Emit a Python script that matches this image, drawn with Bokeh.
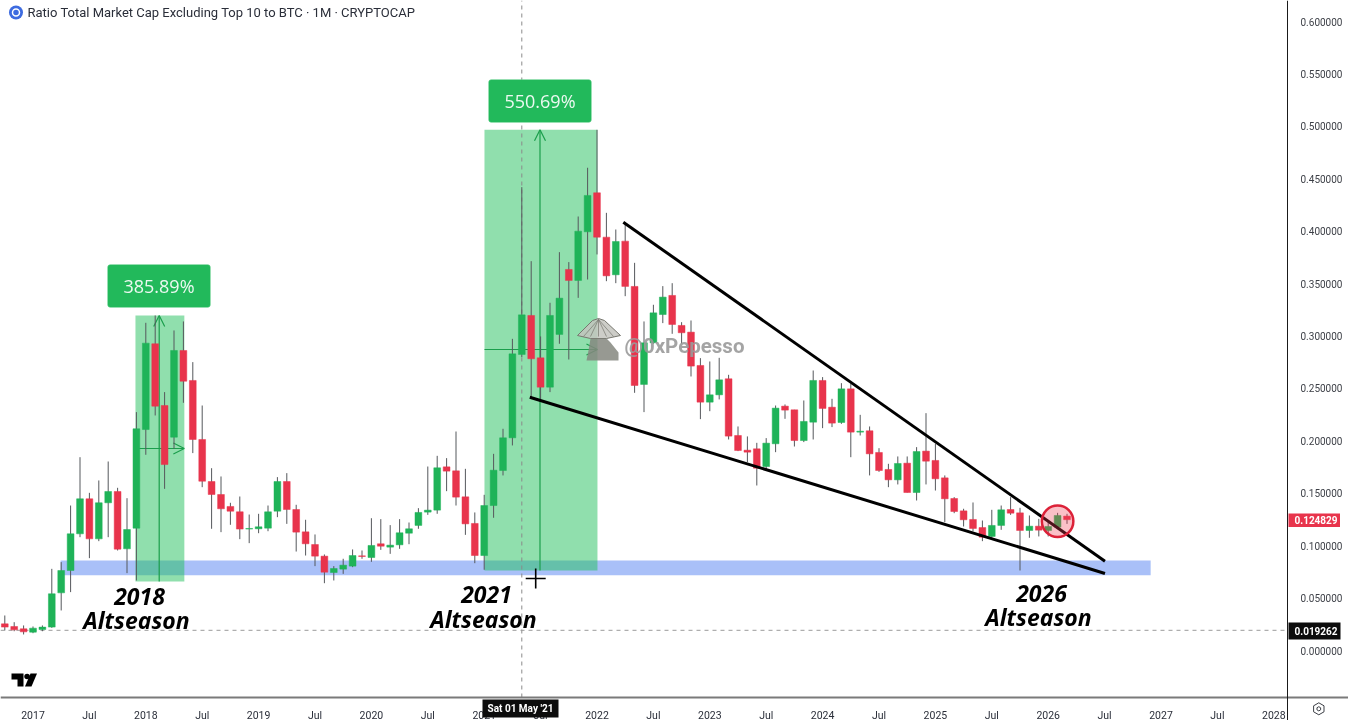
from bokeh.plotting import figure
from bokeh.models import (Range1d, FixedTicker, NumeralTickFormatter, Label, BoxAnnotation,
                          PolyAnnotation, Arrow, OpenHead, ColumnDataSource)
from bokeh.core.properties import value
from bokeh.embed import file_html
from bokeh.resources import INLINE

FIRST_MONTH = -3  # Oct 2016; month 0 = Jan 2017
opens = [.0254,.0229,.0207,
 .0175,.0200,.0223,.0550,.0763,.1113,.1447,.1065,.1409,.1517,.0970,.1167,
 .2108,.2926,.2337,.2035,.2862,.2576,.2013,.1612,.1488,.1374,.1323,.1158,
 .1161,.1167,.1329,.1612,.1345,.1132,.1011,.0900,.0744,.0776,.0805,.0903,
 .0887,.1018,.0986,.1008,.1119,.1193,.1320,.1339,.1752,.1714,.1466,.1212,
 .0906,.1383,.1717,.2029,.2824,.3196,.2792,.2512,.3015,.3635,.3530,.3994,
 .4366,.3943,.3584,.3905,.3473,.2538,.2935,.3205,.3387,.3101,.3037,.2719,
 .2369,.2439,.2592,.2051,.1911,.1924,.1755,.1972,.2331,.2296,.2003,.2178,
 .2576,.2321,.2175,.2496,.2083,.2096,.1889,.1727,.1628,.1787,.1507,.1902,
 .1813,.1647,.1450,.1332,.1250,.1173,.1088,.1193,.1345,.1313,.1145,.1186,
 .1145,.1177,.1282]
highs = [.0334,.0270,.0239,
 .0229,.0239,.0779,.0843,.1383,.1844,.1504,.1622,.1803,.1552,.1453,.2274,
 .3126,.3196,.2465,.3053,.3139,.2751,.2337,.1739,.1660,.1409,.1469,.1297,
 .1304,.1383,.1654,.1692,.1390,.1247,.1107,.0916,.0805,.0875,.0964,.0954,
 .1262,.1253,.1196,.1253,.1221,.1358,.1755,.1857,.1835,.2089,.1733,.1317,
 .1485,.1876,.2115,.2973,.4420,.3714,.2996,.3317,.3800,.3705,.4140,.4605,
 .4967,.4175,.4016,.4086,.3698,.3139,.3298,.3476,.3504,.3132,.3148,.2789,
 .2757,.2792,.2630,.2137,.2042,.1981,.2026,.2337,.2347,.2296,.2385,.2671,
 .2608,.2401,.2550,.2544,.2248,.2137,.1930,.1781,.1851,.1851,.1940,.2264,
 .1972,.1670,.1463,.1352,.1412,.1240,.1342,.1383,.1463,.1361,.1288,.1256,
 .1224,.1313,.1304]
lows = [.0191,.0184,.0153,
 .0165,.0184,.0216,.0382,.0557,.1081,.0881,.1043,.1081,.0954,.0738,.0668,
 .1867,.2242,.1542,.1924,.2363,.1883,.1558,.1161,.1129,.1199,.1062,.1024,
 .1119,.1138,.1272,.1208,.0944,.0906,.0805,.0642,.0668,.0731,.0795,.0875,
 .0846,.0960,.0922,.0970,.1014,.1161,.1294,.1304,.1520,.1383,.1103,.0833,
 .0770,.1266,.1670,.1956,.2798,.2417,.2385,.2465,.2926,.2776,.3364,.3539,
 .3778,.3523,.3504,.3380,.2458,.2274,.2926,.3123,.3021,.2926,.2614,.2207,
 .2283,.2395,.2013,.1902,.1797,.1574,.1727,.1892,.2210,.1946,.1988,.2013,
 .2121,.2131,.2162,.1844,.2051,.1670,.1704,.1558,.1584,.1507,.1431,.1584,
 .1526,.1224,.1310,.1183,.1138,.1043,.1075,.1151,.1294,.0763,.1075,.1088,
 .1088,.1161,.1208]
closes = [.0223,.0197,.0178,
 .0213,.0223,.0541,.0763,.1113,.1447,.1065,.1409,.1517,.0967,.1154,.2115,
 .2932,.2331,.1774,.2862,.2569,.2013,.1615,.1488,.1352,.1329,.1158,.1164,
 .1180,.1323,.1612,.1345,.1129,.1018,.0900,.0747,.0782,.0814,.0906,.0897,
 .1002,.0995,.1005,.1123,.1161,.1317,.1339,.1743,.1711,.1463,.1208,.0906,
 .1383,.1720,.2029,.2830,.3202,.2783,.2512,.3196,.3361,.3530,.4000,.4341,
 .3943,.3574,.3902,.3473,.2528,.2935,.3221,.3371,.3110,.3031,.2713,.2369,
 .2439,.2582,.2045,.1908,.1892,.1739,.1978,.2312,.2293,.2003,.2185,.2576,
 .2309,.2169,.2496,.2083,.2092,.1876,.1717,.1628,.1784,.1507,.1898,.1806,
 .1638,.1447,.1326,.1247,.1164,.1081,.1193,.1342,.1310,.1145,.1186,.1148,
 .1183,.1288,.1248]

tick_months = list(range(0, 133, 6))
tick_labels = ["2017","Jul","2018","Jul","2019","Jul","2020","Jul","2021","Jul","2022","Jul",
               "2023","Jul","2024","Jul","2025","Jul","2026","Jul","2027","Jul","2028"]
price_ticks = [i * 0.05 for i in range(13)]

LAST_PRICE = 0.124829
CROSS_PRICE = 0.019262
CROSS_MONTH = 52
BAND = (2.93, 118.9, 0.0718, 0.0859)
BOX_2018 = (10.9, 16.1, 0.0658, 0.3196)
BOX_2021 = (48.03, 60.05, 0.0763, 0.4967)
UPPER_LINE = ([62.8, 114.04], [0.4086, 0.0852])
LOWER_LINE = ([52.85, 114.04], [0.2416, 0.0735])
MARKER = (109.0, 0.1233)

GREEN, RED, WICK = "#1fb358", "#e8344c", "#55585c"
BOXG = "#22bf5b"

# pixel position on the page -> chart coordinates (decorations only)
def mx(x): return (x - 32.5) / 9.4
def vy(y): return (650 - y) / 1048.3

W, H = 1348, 720
p = figure(width=W, height=H, output_backend="svg", toolbar_location=None,
           x_range=Range1d(mx(0), mx(W)), y_range=Range1d(vy(H), vy(0)),
           x_axis_location="below", y_axis_location="right",
           min_border_left=0, min_border_top=0, min_border_right=0, min_border_bottom=0,
           background_fill_color="white", border_fill_color="white", outline_line_color=None)
p.styles = {"position": "fixed", "left": "0px", "top": "0px"}
p.grid.visible = False

xa, ya = p.xaxis[0], p.yaxis[0]
xa.fixed_location = vy(697)
ya.fixed_location = mx(1287)
xa.ticker = FixedTicker(ticks=tick_months)
xa.major_label_overrides = dict(zip(tick_months, tick_labels))
xa.major_tick_line_color = None; xa.minor_tick_line_color = None
xa.axis_line_color = "#7a7a7a"; xa.axis_line_width = 2
xa.major_label_text_font = "Roboto"; xa.major_label_text_font_size = "10.5px"
xa.major_label_text_color = "#2a2e39"; xa.major_label_standoff = 5
ya.ticker = FixedTicker(ticks=price_ticks)
ya.formatter = NumeralTickFormatter(format="0.000000")
ya.major_tick_line_color = None; ya.minor_tick_line_color = None
ya.axis_line_color = "#1a1a1a"; ya.axis_line_width = 1
ya.major_label_text_font = "Roboto"; ya.major_label_text_font_size = "10px"
ya.major_label_text_color = "#3c3f46"; ya.major_label_standoff = 7

# band and position boxes
p.quad(left=[BAND[0]], right=[BAND[1]], bottom=[BAND[2]], top=[BAND[3]],
       fill_color="#a9c0f8", line_color=None, level="underlay")
for b in (BOX_2018, BOX_2021):
    p.quad(left=[b[0]], right=[b[1]], bottom=[b[2]], top=[b[3]],
           fill_color=BOXG, fill_alpha=0.5, line_color=None, level="underlay")

def arrow(x0, y0, x1, y1):
    p.add_layout(Arrow(end=OpenHead(size=11, line_color="#1b9e4c", line_width=1.2),
                       x_start=x0, y_start=y0, x_end=x1, y_end=y1,
                       line_color="#1b9e4c", line_width=1.2, level="underlay"))
arrow(mx(158.7), BOX_2018[2], mx(158.7), BOX_2018[3])
arrow(BOX_2018[0], vy(448), BOX_2018[1], vy(448))
arrow(mx(539.5), BOX_2021[2], mx(539.5), BOX_2021[3])
arrow(BOX_2021[0], vy(349), BOX_2021[1], vy(349))

# candles
months = [FIRST_MONTH + i for i in range(len(opens))]
src = ColumnDataSource(dict(
    m=months, high=highs, low=lows,
    top=[max(o, c) for o, c in zip(opens, closes)],
    bot=[min(o, c) for o, c in zip(opens, closes)],
    col=[GREEN if c >= o else RED for o, c in zip(opens, closes)]))

# crosshair
p.line([CROSS_MONTH, CROSS_MONTH], [vy(697), vy(0)], line_color="#8a8a8a", line_dash="4 4", line_width=1)
p.line([mx(0), mx(1287)], [CROSS_PRICE, CROSS_PRICE], line_color="#9a9a9a", line_dash="4 4", line_width=1)

p.segment(x0="m", x1="m", y0="low", y1="high", source=src, line_color=WICK, line_width=1)
p.vbar(x="m", width=0.72, bottom="bot", top="top", source=src, fill_color="col", line_color="col", line_width=0.5)

# wedge
p.line(*UPPER_LINE, line_color="black", line_width=3)
p.line(*LOWER_LINE, line_color="black", line_width=3)
p.scatter([MARKER[0]], [MARKER[1]], marker="circle", size=31.5, fill_color="#ee3b50", fill_alpha=0.32,
          line_color="#dc2138", line_width=2.5)

# cursor
p.scatter([mx(535.2)], [vy(578)], marker="cross", size=20, line_color="black", line_width=1.6)

# season texts
season = dict(text_font=value("Open Sans"), text_font_style="bold italic", text_font_size="23px",
              text_color="black", text_align="center", text_baseline="middle")
for (x, y1, y2, yr) in [(139, 596, 619, "2018"), (486, 594, 618, "2021"), (1041, 593, 616, "2026")]:
    p.text([mx(x)], [vy(y1)], text=[yr], **season)
    p.text([mx(x - 3)], [vy(y2)], text=["Altseason"], **season)

# percent tags
for (l, r, t, b, s) in [(107, 210, 264, 307, "385.89%"), (488, 591, 79, 122, "550.69%")]:
    p.add_layout(BoxAnnotation(left=mx(l), right=mx(r), top=vy(t), bottom=vy(b), fill_color="#22b95b",
                               fill_alpha=1, line_color="#a8e8c0", line_width=1, border_radius=3))
    p.add_layout(Label(x=mx((l + r) / 2), y=vy((t + b) / 2), text=s, text_color="#ecf9f1", text_font="Open Sans",
                       text_font_size="18px", text_align="center", text_baseline="middle"))

# title
p.scatter([mx(15.5)], [vy(12)], marker="circle", size=14, fill_color="#3d6be0", line_color=None)
p.scatter([mx(15.5)], [vy(12)], marker="circle", size=7, fill_color="#3d6be0", line_color="white", line_width=1.5)
p.text([mx(27)], [vy(12)], text=["Ratio Total Market Cap Excluding Top 10 to BTC \u00b7 1M \u00b7 CRYPTOCAP"],
       text_font=value("Roboto"), text_font_size="13px", text_color="#2a2e39", text_baseline="middle")

# TradingView mark
p.patch([mx(a) for a in (11, 23, 23, 17, 17, 11)], [vy(b) for b in (673, 673, 686, 686, 679, 679)],
        fill_color="black", line_color=None)
p.scatter([mx(26.6)], [vy(676)], marker="circle", size=5.6, fill_color="black", line_color=None)
p.patch([mx(a) for a in (30, 36.5, 31, 24.5)], [vy(b) for b in (673, 673, 686, 686)],
        fill_color="black", line_color=None)

# watermark
p.patch([mx(a) for a in (598, 604, 620, 606, 590, 577, 592)], [vy(b) for b in (318, 320, 335, 338, 338, 335, 320)],
        fill_color="#c4c4be", fill_alpha=0.85, line_color="#77776f", line_width=1)
for dx in (-15, -8, 0, 8, 15):
    p.line([mx(598), mx(598 + dx)], [vy(319), vy(336)], line_color="#77776f", line_width=0.7)
p.patch([mx(a) for a in (590, 606, 610, 618, 618, 586, 588)], [vy(b) for b in (338, 338, 342, 352, 360, 360, 350)],
        fill_color="#85877f", fill_alpha=0.85, line_color=None)
p.text([mx(624)], [vy(345)], text=["@0xPepesso"], text_font=value("Roboto"), text_font_style="bold",
       text_font_size="20.5px", text_color="#9a9a9a", text_alpha=0.9, text_baseline="middle")

# price and date tags
def tag(l, r, t, b, col, s, tx, align="left"):
    p.add_layout(BoxAnnotation(left=mx(l), right=mx(r), top=vy(t), bottom=vy(b), fill_color=col, fill_alpha=1,
                               line_color=None))
    p.add_layout(Label(x=mx(tx), y=vy((t + b) / 2), text=s, text_color="white", text_font="Roboto",
                       text_font_style="bold", text_font_size="10px", text_align=align, text_baseline="middle"))
tag(1288, 1339.5, 513, 526.5, "#e8344c", f"{LAST_PRICE:.6f}", 1294)
tag(1288, 1340, 622, 639, "#0c0c0c", f"{CROSS_PRICE:.6f}", 1294)
tag(482, 558, 699, 717, "#0c0c0c", "Sat 01 May '21", 520, "center")

# settings mark
hexx = (-5.2, 0, 5.2, 5.2, 0, -5.2)
hexy = (-3, -6, -3, 3, 6, 3)
for k in (1, .35):
    p.add_layout(PolyAnnotation(xs=[mx(1318.3 + a * k) for a in hexx], ys=[vy(708.3 + b * k) for b in hexy],
                                fill_alpha=0, line_color="#3c3f46", line_alpha=1, line_width=1))

open("out.html", "w").write(file_html(p, INLINE))
